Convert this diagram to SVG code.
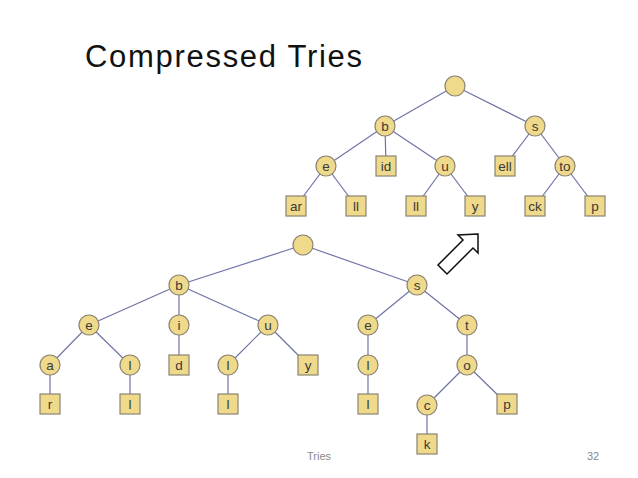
<svg xmlns="http://www.w3.org/2000/svg" width="638" height="478" viewBox="0 0 638 478">
<style>
.n{fill:#EFD98A;stroke:#8C8472;stroke-width:1.2}
.t{font-family:"Liberation Sans",Arial,sans-serif;font-size:13.5px;fill:#3a3a3a;text-anchor:middle}
.e line{stroke:#6F74A6;stroke-width:1.2}
.f{font-family:"Liberation Sans",Arial,sans-serif;font-size:11px;fill:#8a8a8a}
</style>
<rect width="638" height="478" fill="#ffffff"/>
<text x="85" y="67" font-family="Liberation Sans, Arial, sans-serif" font-size="31" fill="#111" textLength="277" lengthAdjust="spacing">Compressed Tries</text>
<g id="connectors" class="e">
<line x1="455" y1="86" x2="385" y2="126"/>
<line x1="455" y1="86" x2="535" y2="126"/>
<line x1="385" y1="126" x2="326" y2="166"/>
<line x1="385" y1="126" x2="386" y2="166"/>
<line x1="385" y1="126" x2="445" y2="166"/>
<line x1="535" y1="126" x2="505" y2="166"/>
<line x1="535" y1="126" x2="565" y2="166"/>
<line x1="326" y1="166" x2="296" y2="206"/>
<line x1="326" y1="166" x2="356" y2="206"/>
<line x1="445" y1="166" x2="416" y2="206"/>
<line x1="445" y1="166" x2="475" y2="206"/>
<line x1="565" y1="166" x2="535" y2="206"/>
<line x1="565" y1="166" x2="595" y2="206"/>
<line x1="303" y1="245" x2="179" y2="285"/>
<line x1="303" y1="245" x2="417" y2="285"/>
<line x1="179" y1="285" x2="89" y2="325"/>
<line x1="179" y1="285" x2="179" y2="325"/>
<line x1="179" y1="285" x2="268" y2="325"/>
<line x1="89" y1="325" x2="50" y2="365"/>
<line x1="89" y1="325" x2="130" y2="365"/>
<line x1="179" y1="325" x2="179" y2="365"/>
<line x1="268" y1="325" x2="228" y2="365"/>
<line x1="268" y1="325" x2="308" y2="365"/>
<line x1="50" y1="365" x2="50" y2="404"/>
<line x1="130" y1="365" x2="130" y2="404"/>
<line x1="228" y1="365" x2="228" y2="404"/>
<line x1="417" y1="285" x2="368" y2="325"/>
<line x1="417" y1="285" x2="467" y2="325"/>
<line x1="368" y1="325" x2="368" y2="365"/>
<line x1="368" y1="365" x2="368" y2="404"/>
<line x1="467" y1="325" x2="467" y2="365"/>
<line x1="467" y1="365" x2="427" y2="405"/>
<line x1="467" y1="365" x2="507" y2="404"/>
<line x1="427" y1="405" x2="427" y2="444"/>
</g>
<g id="t-root"><circle class="n" cx="455" cy="86" r="10"/></g>
<g id="t-b"><circle class="n" cx="385" cy="126" r="10"/><text class="t" x="385" y="131">b</text></g>
<g id="t-s"><circle class="n" cx="535" cy="126" r="10"/><text class="t" x="535" y="131">s</text></g>
<g id="t-e"><circle class="n" cx="326" cy="166" r="10"/><text class="t" x="326" y="171">e</text></g>
<g id="t-id"><rect class="n" x="376" y="156" width="20" height="20"/><text class="t" x="386" y="171">id</text></g>
<g id="t-u"><circle class="n" cx="445" cy="166" r="10"/><text class="t" x="445" y="171">u</text></g>
<g id="t-ell"><rect class="n" x="495" y="156" width="20" height="20"/><text class="t" x="505" y="171">ell</text></g>
<g id="t-to"><circle class="n" cx="565" cy="166" r="10"/><text class="t" x="565" y="171">to</text></g>
<g id="t-ar"><rect class="n" x="286" y="196" width="20" height="20"/><text class="t" x="296" y="211">ar</text></g>
<g id="t-ll1"><rect class="n" x="346" y="196" width="20" height="20"/><text class="t" x="356" y="211">ll</text></g>
<g id="t-ll2"><rect class="n" x="406" y="196" width="20" height="20"/><text class="t" x="416" y="211">ll</text></g>
<g id="t-y"><rect class="n" x="465" y="196" width="20" height="20"/><text class="t" x="475" y="211">y</text></g>
<g id="t-ck"><rect class="n" x="525" y="196" width="20" height="20"/><text class="t" x="535" y="211">ck</text></g>
<g id="t-p"><rect class="n" x="585" y="196" width="20" height="20"/><text class="t" x="595" y="211">p</text></g>
<g id="b-root"><circle class="n" cx="303" cy="245" r="10"/></g>
<g id="b-b"><circle class="n" cx="179" cy="285" r="10"/><text class="t" x="179" y="290">b</text></g>
<g id="b-s"><circle class="n" cx="417" cy="285" r="10"/><text class="t" x="417" y="290">s</text></g>
<g id="b-e"><circle class="n" cx="89" cy="325" r="10"/><text class="t" x="89" y="330">e</text></g>
<g id="b-i"><circle class="n" cx="179" cy="325" r="10"/><text class="t" x="179" y="330">i</text></g>
<g id="b-u"><circle class="n" cx="268" cy="325" r="10"/><text class="t" x="268" y="330">u</text></g>
<g id="b-a"><circle class="n" cx="50" cy="365" r="10"/><text class="t" x="50" y="370">a</text></g>
<g id="b-l1"><circle class="n" cx="130" cy="365" r="10"/><text class="t" x="130" y="370">l</text></g>
<g id="b-d"><rect class="n" x="169" y="355" width="20" height="20"/><text class="t" x="179" y="370">d</text></g>
<g id="b-l2"><circle class="n" cx="228" cy="365" r="10"/><text class="t" x="228" y="370">l</text></g>
<g id="b-y"><rect class="n" x="298" y="355" width="20" height="20"/><text class="t" x="308" y="370">y</text></g>
<g id="b-r"><rect class="n" x="40" y="394" width="20" height="20"/><text class="t" x="50" y="409">r</text></g>
<g id="b-l1b"><rect class="n" x="120" y="394" width="20" height="20"/><text class="t" x="130" y="409">l</text></g>
<g id="b-l2b"><rect class="n" x="218" y="394" width="20" height="20"/><text class="t" x="228" y="409">l</text></g>
<g id="b-e2"><circle class="n" cx="368" cy="325" r="10"/><text class="t" x="368" y="330">e</text></g>
<g id="b-t"><circle class="n" cx="467" cy="325" r="10"/><text class="t" x="467" y="330">t</text></g>
<g id="b-l3"><circle class="n" cx="368" cy="365" r="10"/><text class="t" x="368" y="370">l</text></g>
<g id="b-o"><circle class="n" cx="467" cy="365" r="10"/><text class="t" x="467" y="370">o</text></g>
<g id="b-l3b"><rect class="n" x="358" y="394" width="20" height="20"/><text class="t" x="368" y="409">l</text></g>
<g id="b-c"><circle class="n" cx="427" cy="405" r="10"/><text class="t" x="427" y="410">c</text></g>
<g id="b-p"><rect class="n" x="497" y="394" width="20" height="20"/><text class="t" x="507" y="409">p</text></g>
<g id="b-k"><rect class="n" x="417" y="434" width="20" height="20"/><text class="t" x="427" y="449">k</text></g>
<polygon points="478,234 458,235 463,240 438,265 447,274 473,248 478,253" fill="#fff" stroke="#111" stroke-width="1.5" stroke-linejoin="miter"/>
<text class="f" x="319" y="460" text-anchor="middle">Tries</text>
<text class="f" x="593" y="460" text-anchor="middle">32</text>
</svg>
